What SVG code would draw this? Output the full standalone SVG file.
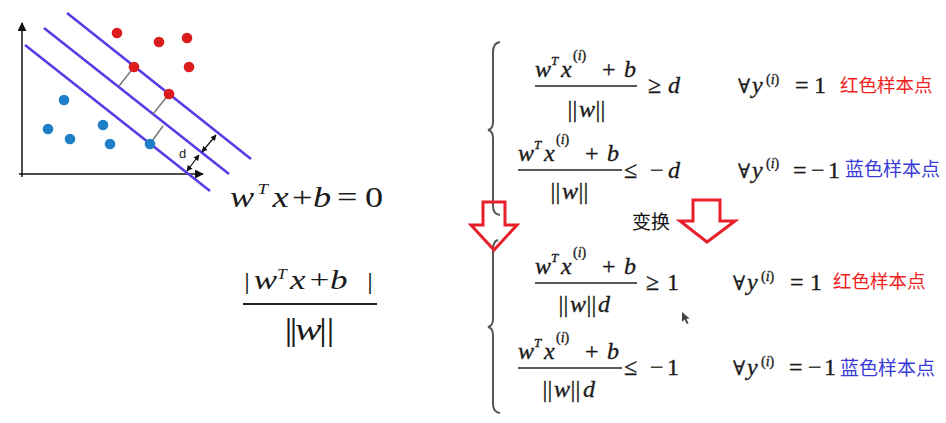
<svg xmlns="http://www.w3.org/2000/svg" width="946" height="423" viewBox="0 0 946 423">
<style>
text{font-family:"Liberation Serif","Times New Roman",serif;fill:#1a1a1a}
.mx{stroke:#1a1a1a;stroke-width:0.35}
.i{font-style:italic}
.m{font-size:24px}
.s{font-size:14px}
.t{font-size:13px;font-style:italic}
.fa{font-family:"DejaVu Serif",serif;font-size:20px}
.bar{text-anchor:middle;font-style:normal}
.fl{stroke:#222;stroke-width:1.5}
.cn{font-family:"Liberation Sans","Noto Sans CJK SC",sans-serif}
.red{fill:#f01e1e;font-size:18.5px}
.blue{fill:#3a3ad8;font-size:19px}
.hyper{stroke:#5a3ae6;stroke-width:2.6;fill:none}
.gap{stroke:#7a7a7a;stroke-width:1.5}
.rdot{fill:#dc1c1c}
.bdot{fill:#1f7fc6}
.brace{fill:none;stroke:#555;stroke-width:2}
.bigarrow{fill:none;stroke:#e8202a;stroke-width:3;stroke-linejoin:miter}
</style>
<defs>
<marker id="ah" viewBox="0 0 10 10" refX="9" refY="5" markerWidth="6" markerHeight="6" orient="auto-start-reverse"><path d="M0,0 L10,5 L0,10 Z" fill="#111"/></marker>
<marker id="sh" viewBox="0 0 10 10" refX="9" refY="5" markerWidth="5" markerHeight="5" orient="auto-start-reverse"><path d="M0,0 L10,5 L0,10 Z" fill="#111"/></marker>
</defs>
<rect width="946" height="423" fill="#fff"/>

<g id="plot">
<line x1="22" y1="177" x2="22" y2="23" stroke="#111" stroke-width="1.5" marker-end="url(#ah)"/>
<line x1="19" y1="174" x2="203" y2="174" stroke="#111" stroke-width="1.5" marker-end="url(#ah)"/>
<line class="hyper" x1="67" y1="13" x2="251" y2="159"/>
<line class="hyper" x1="44" y1="28" x2="229" y2="174"/>
<line class="hyper" x1="25" y1="45" x2="210" y2="191"/>
<line class="gap" x1="134" y1="67" x2="119" y2="86"/>
<line class="gap" x1="169" y1="94" x2="153" y2="114"/>
<line class="gap" x1="150" y1="144" x2="163" y2="126"/>
<circle class="rdot" cx="117" cy="33" r="5.3"/>
<circle class="rdot" cx="159" cy="42" r="5.3"/>
<circle class="rdot" cx="187" cy="38" r="5.3"/>
<circle class="rdot" cx="189" cy="67" r="5.3"/>
<circle class="rdot" cx="134" cy="67" r="5.3"/>
<circle class="rdot" cx="169" cy="94" r="5.3"/>
<circle class="bdot" cx="64" cy="100" r="5.3"/>
<circle class="bdot" cx="48" cy="129" r="5.3"/>
<circle class="bdot" cx="70" cy="139" r="5.3"/>
<circle class="bdot" cx="103" cy="125" r="5.3"/>
<circle class="bdot" cx="110" cy="144" r="5.3"/>
<circle class="bdot" cx="150" cy="144" r="5.3"/>
<line x1="187" y1="171" x2="199" y2="155" stroke="#111" stroke-width="1.2" marker-start="url(#sh)" marker-end="url(#sh)"/>
<line x1="202" y1="152" x2="216" y2="135" stroke="#111" stroke-width="1.2" marker-start="url(#sh)" marker-end="url(#sh)"/>
<text x="179" y="158" style="font-family:'Liberation Sans',sans-serif;font-size:13px">d</text>
</g>

<g id="eq-hyperplane">
<text transform="scale(1.25,1)" y="207" style="font-size:29px"><tspan class="i" x="184">w</tspan><tspan class="i" x="206" y="194" style="font-size:15px">T</tspan><tspan class="i" x="218" y="207">x</tspan><tspan x="233.6">+</tspan><tspan class="i" x="250.4">b</tspan><tspan x="269.6">=</tspan><tspan x="292">0</tspan></text>
</g>

<g id="eq-distance">
<text transform="scale(1.25,1)" y="289" style="font-size:28px"><tspan class="bar" x="197.6" style="font-size:24px">|</tspan><tspan class="i" x="203">w</tspan><tspan class="i" x="221.6" y="279" style="font-size:14px">T</tspan><tspan class="i" x="232" y="289">x</tspan><tspan x="247.6">+</tspan><tspan class="i" x="264">b</tspan><tspan class="bar" x="296" style="font-size:24px">|</tspan></text>
<line x1="243" y1="304" x2="377" y2="304" stroke="#222" stroke-width="2"/>
<text transform="scale(1.25,1)" y="340" style="font-size:32px"><tspan class="bar" x="230.8">|</tspan><tspan class="bar" x="234.8">|</tspan><tspan class="i" x="236">w</tspan><tspan class="bar" x="258.4">|</tspan><tspan class="bar" x="264.4">|</tspan></text>
</g>

<g id="system-1">
<path class="brace" d="M500,42 Q493,43 493,52 L493,122 Q493,129 488,130 Q493,131 493,138 L493,206 Q493,214 500,215"/>
<text class="m mx" y="77"><tspan class="i" x="535">w</tspan><tspan class="t" x="551" y="65">T</tspan><tspan class="i" x="561" y="77">x</tspan><tspan class="s" x="573" y="60">(<tspan class="i">i</tspan>)</tspan><tspan x="602" y="77">+</tspan><tspan class="i" x="624">b</tspan></text>
<line class="fl" x1="535" y1="86" x2="637" y2="86"/>
<text class="m mx" y="117"><tspan class="bar" x="570">|</tspan><tspan class="bar" x="575">|</tspan><tspan class="i" x="579">w</tspan><tspan class="bar" x="598">|</tspan><tspan class="bar" x="603">|</tspan></text>
<text class="m mx" y="93"><tspan x="648">≥</tspan><tspan class="i" x="668">d</tspan></text>
<text class="m mx" y="93"><tspan class="fa" x="738">∀</tspan><tspan class="i" x="752">y</tspan><tspan class="s" x="766" y="84">(<tspan class="i">i</tspan>)</tspan><tspan x="795" y="93">=</tspan><tspan x="814">1</tspan></text>

<text class="m mx" y="161"><tspan class="i" x="518">w</tspan><tspan class="t" x="534" y="149">T</tspan><tspan class="i" x="544" y="161">x</tspan><tspan class="s" x="556" y="144">(<tspan class="i">i</tspan>)</tspan><tspan x="585" y="161">+</tspan><tspan class="i" x="607">b</tspan></text>
<line class="fl" x1="518" y1="170" x2="622" y2="170"/>
<text class="m mx" y="199"><tspan class="bar" x="553">|</tspan><tspan class="bar" x="558">|</tspan><tspan class="i" x="562">w</tspan><tspan class="bar" x="581">|</tspan><tspan class="bar" x="586">|</tspan></text>
<text class="m mx" y="178"><tspan x="624">≤</tspan><tspan x="650">−</tspan><tspan class="i" x="668">d</tspan></text>
<text class="m mx" y="178"><tspan class="fa" x="738">∀</tspan><tspan class="i" x="752">y</tspan><tspan class="s" x="766" y="168">(<tspan class="i">i</tspan>)</tspan><tspan x="793" y="178">=</tspan><tspan x="811">−</tspan><tspan x="828">1</tspan></text>
<text class="cn red" x="840" y="92">红色样本点</text>
<text class="cn blue" x="845" y="176">蓝色样本点</text>
</g>

<g id="system-2">
<path class="brace" d="M498,240 Q493,241 493,250 L493,319 Q493,326 488,327 Q493,328 493,335 L493,404 Q493,412 500,413"/>
<text class="m mx" y="274"><tspan class="i" x="535">w</tspan><tspan class="t" x="551" y="262">T</tspan><tspan class="i" x="561" y="274">x</tspan><tspan class="s" x="573" y="257">(<tspan class="i">i</tspan>)</tspan><tspan x="602" y="274">+</tspan><tspan class="i" x="624">b</tspan></text>
<line class="fl" x1="535" y1="283" x2="637" y2="283"/>
<text class="m mx" y="312"><tspan class="bar" x="561">|</tspan><tspan class="bar" x="566">|</tspan><tspan class="i" x="570">w</tspan><tspan class="bar" x="589">|</tspan><tspan class="bar" x="594">|</tspan><tspan class="i" x="598">d</tspan></text>
<text class="m mx" y="290"><tspan x="646">≥</tspan><tspan x="667">1</tspan></text>
<text class="m mx" y="290"><tspan class="fa" x="733">∀</tspan><tspan class="i" x="747">y</tspan><tspan class="s" x="761" y="281">(<tspan class="i">i</tspan>)</tspan><tspan x="790" y="290">=</tspan><tspan x="810">1</tspan></text>

<text class="m mx" y="359"><tspan class="i" x="518">w</tspan><tspan class="t" x="534" y="347">T</tspan><tspan class="i" x="544" y="359">x</tspan><tspan class="s" x="556" y="342">(<tspan class="i">i</tspan>)</tspan><tspan x="585" y="359">+</tspan><tspan class="i" x="607">b</tspan></text>
<line class="fl" x1="518" y1="368" x2="622" y2="368"/>
<text class="m mx" y="397"><tspan class="bar" x="545">|</tspan><tspan class="bar" x="550">|</tspan><tspan class="i" x="554">w</tspan><tspan class="bar" x="573">|</tspan><tspan class="bar" x="578">|</tspan><tspan class="i" x="583">d</tspan></text>
<text class="m mx" y="375"><tspan x="624">≤</tspan><tspan x="650">−</tspan><tspan x="667">1</tspan></text>
<text class="m mx" y="375"><tspan class="fa" x="733">∀</tspan><tspan class="i" x="747">y</tspan><tspan class="s" x="761" y="366">(<tspan class="i">i</tspan>)</tspan><tspan x="789" y="375">=</tspan><tspan x="808">−</tspan><tspan x="824">1</tspan></text>
<text class="cn red" x="833" y="288">红色样本点</text>
<text class="cn blue" x="840" y="375">蓝色样本点</text>
</g>

<g id="connectors">
<path class="bigarrow" d="M483,202 L505,202 L505,225 L517,225 L494,250 L471,225 L483,225 Z"/>
<path class="bigarrow" d="M693,200 L720,200 L720,221 L735,221 L707,242 L680,221 L693,221 Z"/>
</g>
<g id="transform-label">
<text class="cn" x="632" y="229" style="font-size:19px;fill:#111">变换</text>
</g>
<path d="M682,312 L682,322 L684.6,319.6 L686.8,324 L688.6,323.2 L686.4,318.8 L689.6,318.6 Z" fill="#222" opacity="0.85"/>
</svg>
